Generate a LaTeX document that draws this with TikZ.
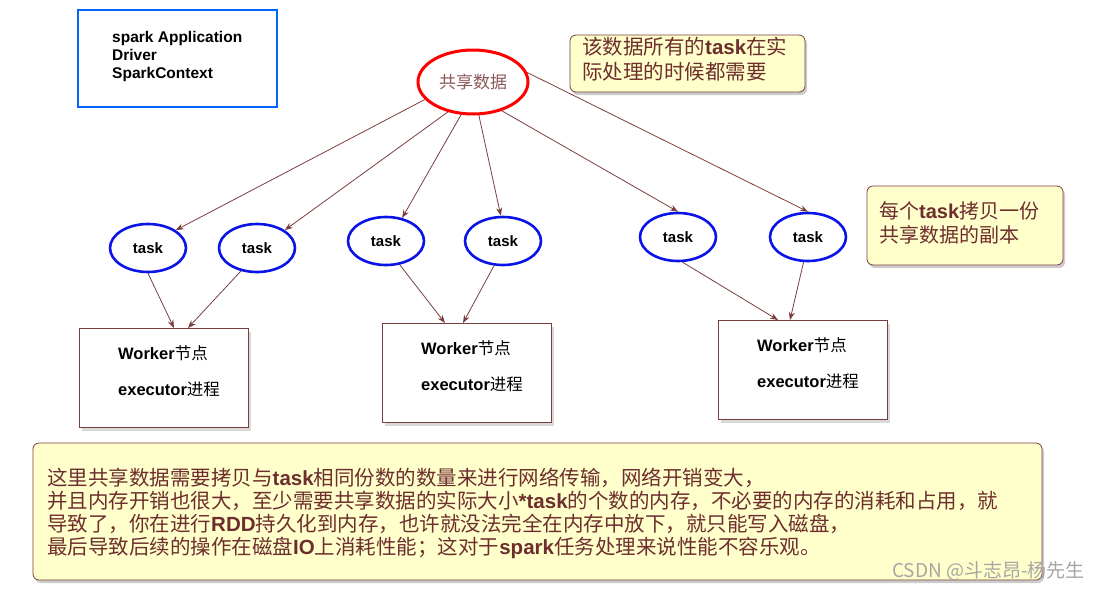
\documentclass[tikz,border=0pt]{standalone}
\usepackage{fontspec}
\setmainfont{Noto Sans CJK SC}
\newfontfamily\lat{Liberation Sans}
\usetikzlibrary{shadows,arrows.meta,shapes.geometric,calc}
\definecolor{dred}{HTML}{6E2E2E}
\definecolor{lnc}{HTML}{7A3E3E}
\definecolor{ylw}{HTML}{FFFFCC}
\definecolor{bl}{HTML}{0A14E6}
\tikzset{
 conn/.style={draw=lnc,line width=0.8pt,-{Stealth[length=8pt,width=6pt]}},
 taskn/.style={draw=bl,line width=2.6pt,ellipse,minimum width=76pt,minimum height=48pt,font=\lat\bfseries\fontsize{15}{17}\selectfont},
 note/.style={draw=lnc,fill=ylw,rounded corners=6pt,line width=0.8pt,drop shadow={shadow xshift=2pt,shadow yshift=-3pt,opacity=0.4}},
 worker/.style={draw=lnc,line width=1.3pt,drop shadow={shadow xshift=2pt,shadow yshift=-3pt,opacity=0.3},fill=white},
 ctext/.style={text=dred,anchor=north west,align=left,inner sep=0pt}
}
\begin{document}
\begin{tikzpicture}[x=1pt,y=-1pt]
\useasboundingbox (0,0) rectangle (1101,590);
% blue box
\draw[draw=blue!60!cyan,line width=1.5pt] (78,10) rectangle (277,107);
\node[anchor=north west,align=left,inner sep=0pt,font=\lat\bfseries\fontsize{15.5}{18}\selectfont] (app) at (112,31) {spark Application\\Driver\\SparkContext};
% shared data
\node[draw=red,line width=3pt,ellipse,minimum width=110pt,minimum height=64pt,text=dred!80,font=\fontsize{17}{19}\selectfont] (sd) at (473,82) {共享数据};
% note 1
\node[note,minimum width=235pt,minimum height=57pt] (n1) at (687.5,63.5) {};
\node[ctext,font=\fontsize{20.5}{25}\selectfont] at (582,37) {该数据所有的\textbf{\lat task}在实\\际处理的时候都需要};
% note 2
\node[note,minimum width=196pt,minimum height=79pt] (n2) at (965,225.5) {};
\node[ctext,font=\fontsize{20}{24}\selectfont] at (879,201) {每个\textbf{\lat task}拷贝一份\\共享数据的副本};
% tasks
\node[taskn] (t1) at (148,248) {task};
\node[taskn] (t2) at (257,248) {task};
\node[taskn] (t3) at (386,241) {task};
\node[taskn] (t4) at (503,241) {task};
\node[taskn] (t5) at (678,237) {task};
\node[taskn] (t6) at (808,237) {task};
% workers
\foreach \n/\x/\y in {w1/79/328,w2/382/323,w3/718/320}{
 \node[worker,anchor=north west,minimum width=169pt,minimum height=99pt,inner sep=0pt] (\n) at (\x,\y) {};
 \node[anchor=north west,align=left,inner sep=0pt,font=\fontsize{16.5}{36}\selectfont] at ($(\x,\y)+(39,17)$) {\textbf{\lat Worker}节点\\\textbf{\lat executor}进程};
}
% connectors
\draw[conn] (sd.200) -- (t1.north east);
\draw[conn] (sd.230) -- (t2.north east);
\draw[conn] (sd.250) -- (t3.55);
\draw[conn] (sd.280) -- (t4.95);
\draw[conn] (sd.315) -- (t5.north);
\draw[conn] (sd.10) -- (t6.north);
\draw[conn] (t1.south) -- (w1.north -| 174,0);
\draw[conn] (t2.235) -- (w1.north -| 188,0);
\draw[conn] (t3.300) -- (w2.north -| 445,0);
\draw[conn] (t4.250) -- (w2.north -| 463,0);
\draw[conn] (t5.280) -- (w3.north -| 778,0);
\draw[conn] (t6.260) -- (w3.north -| 790,0);
% bottom note
\node[note,minimum width=1009pt,minimum height=137pt] (n3) at (537.5,511.5) {};
\node[ctext,font=\fontsize{20.5}{23}\selectfont] at (47,468) {这里共享数据需要拷贝与\textbf{\lat task}相同份数的数量来进行网络传输，网络开销变大，\\并且内存开销也很大，至少需要共享数据的实际大小\textbf{\lat *task}的个数的内存，不必要的内存的消耗和占用，就\\导致了，你在进行\textbf{\lat RDD}持久化到内存，也许就没法完全在内存中放下，就只能写入磁盘，\\最后导致后续的操作在磁盘\textbf{\lat IO}上消耗性能；这对于\textbf{\lat spark}任务处理来说性能不容乐观。};
\node[anchor=east,text=gray!70,inner sep=0pt,font=\fontsize{19}{21}\selectfont] (wm) at (1085,571) {CSDN @斗志昂-杨先生};
\end{tikzpicture}
\end{document}
